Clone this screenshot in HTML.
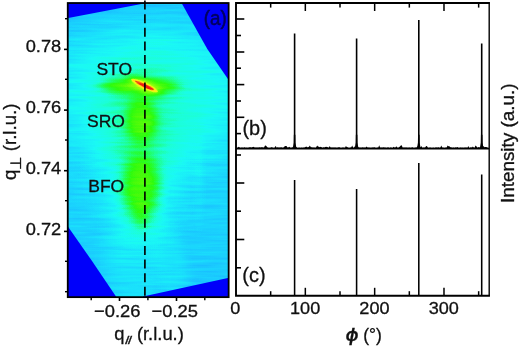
<!DOCTYPE html>
<html><head><meta charset="utf-8"><title>figure</title>
<style>html,body{margin:0;padding:0;background:#fff;}svg{display:block}</style></head>
<body><svg width="520" height="348" viewBox="0 0 520 348">
<rect width="520" height="348" fill="#fff"/>
<defs>
<linearGradient id="bg" x1="0" y1="0" x2="0" y2="1"><stop offset="0" stop-color="rgb(76,76,76)"/><stop offset="0.1" stop-color="rgb(80,80,80)"/><stop offset="0.2" stop-color="rgb(85,85,85)"/><stop offset="0.5" stop-color="rgb(85,85,85)"/><stop offset="0.75" stop-color="rgb(83,83,83)"/><stop offset="1" stop-color="rgb(79,79,79)"/></linearGradient>
<radialGradient id="gw"><stop offset="0" stop-color="#fff" stop-opacity="1"/><stop offset="0.15" stop-color="#fff" stop-opacity="0.93"/><stop offset="0.3" stop-color="#fff" stop-opacity="0.75"/><stop offset="0.45" stop-color="#fff" stop-opacity="0.53"/><stop offset="0.6" stop-color="#fff" stop-opacity="0.32"/><stop offset="0.75" stop-color="#fff" stop-opacity="0.16"/><stop offset="0.9" stop-color="#fff" stop-opacity="0.05"/><stop offset="1" stop-color="#fff" stop-opacity="0"/></radialGradient>
<radialGradient id="gf"><stop offset="0" stop-color="#fff" stop-opacity="1"/><stop offset="0.25" stop-color="#fff" stop-opacity="0.97"/><stop offset="0.4" stop-color="#fff" stop-opacity="0.86"/><stop offset="0.55" stop-color="#fff" stop-opacity="0.62"/><stop offset="0.7" stop-color="#fff" stop-opacity="0.33"/><stop offset="0.85" stop-color="#fff" stop-opacity="0.11"/><stop offset="1" stop-color="#fff" stop-opacity="0"/></radialGradient>
<clipPath id="hc"><rect x="67.5" y="2.8" width="161.4" height="294.59999999999997"/></clipPath>
<filter id="bl" x="-20%" y="-50%" width="140%" height="200%"><feGaussianBlur stdDeviation="0.7"/></filter>
<filter id="jet" filterUnits="userSpaceOnUse" x="60" y="0" width="180" height="300" color-interpolation-filters="sRGB">
<feTurbulence type="fractalNoise" baseFrequency="0.022 0.33" numOctaves="2" seed="7" result="t"/>
<feColorMatrix in="t" type="matrix" values="1 0 0 0 0  1 0 0 0 0  1 0 0 0 0  0 0 0 0 1" result="n"/>
<feComposite in="SourceGraphic" in2="n" operator="arithmetic" k1="0" k2="1" k3="0.09" k4="-0.045" result="s"/>
<feComponentTransfer in="s"><feFuncR type="table" tableValues="0.000 0.020 0.039 0.059 0.078 0.094 0.102 0.102 0.102 0.110 0.118 0.137 0.176 0.314 0.471 0.588 0.745 0.902 1.000 0.980 0.941"/><feFuncG type="table" tableValues="0.000 0.157 0.314 0.451 0.569 0.675 0.776 0.882 0.980 1.000 1.000 1.000 0.988 0.988 1.000 1.000 1.000 0.980 0.922 0.549 0.118"/><feFuncB type="table" tableValues="0.980 0.988 0.996 1.000 1.000 1.000 1.000 0.988 0.961 0.843 0.588 0.294 0.059 0.039 0.039 0.059 0.078 0.078 0.078 0.078 0.078"/></feComponentTransfer>
</filter>
</defs>
<g clip-path="url(#hc)">
<g filter="url(#jet)">
<rect x="60" y="0" width="180" height="300" fill="url(#bg)"/>
<ellipse cx="150" cy="95" rx="135" ry="105" fill="url(#gf)" opacity="0.15"/>
<ellipse cx="133" cy="258" rx="42" ry="92" fill="url(#gf)" opacity="0.065"/>
<ellipse cx="169" cy="258" rx="24" ry="78" fill="url(#gf)" opacity="0.055" transform="rotate(-14 169 258)"/>
<ellipse cx="199" cy="170" rx="9" ry="80" fill="url(#gw)" opacity="0.03"/>
<ellipse cx="141" cy="150" rx="64" ry="115" fill="url(#gw)" opacity="0.15"/>
<ellipse cx="140" cy="192" rx="72" ry="62" fill="url(#gw)" opacity="0.07"/>
<ellipse cx="141" cy="150" rx="30" ry="95" fill="url(#gw)" opacity="0.05"/>
<ellipse cx="143" cy="85.5" rx="64" ry="11" fill="url(#gw)" opacity="0.22"/>
<ellipse cx="143" cy="88" rx="44" ry="24" fill="url(#gw)" opacity="0.2"/>
<ellipse cx="117" cy="86.5" rx="26" ry="11" fill="url(#gf)" opacity="0.16"/>
<ellipse cx="166" cy="87.5" rx="20" ry="9" fill="url(#gf)" opacity="0.1"/>
<ellipse cx="141.5" cy="120" rx="23" ry="31" fill="url(#gf)" opacity="0.27"/>
<ellipse cx="141" cy="187" rx="29" ry="46" fill="url(#gf)" opacity="0.31"/>
<ellipse cx="141" cy="216" rx="13" ry="30" fill="url(#gw)" opacity="0.1"/>
<ellipse cx="140" cy="222" rx="32" ry="34" fill="url(#gw)" opacity="0.07"/>
<ellipse cx="144.5" cy="86" rx="26" ry="10" fill="url(#gw)" opacity="0.45" transform="rotate(25 144.5 86)"/>
<g transform="rotate(25 144.5 85.6)" filter="url(#bl)"><ellipse cx="144.5" cy="85.6" rx="14.5" ry="3.1" fill="rgb(228,228,228)"/><ellipse cx="144.5" cy="85.6" rx="10.5" ry="1.7" fill="#fff"/></g>
</g>
<polygon points="67,2 144,2 144,3.4 67,18.2" fill="rgb(0,0,250)"/>
<polygon points="181,2 230,2 230,82 228.6,80 207,48.5" fill="rgb(0,0,250)"/>
<polygon points="67,225.2 92,261 117,298 67,298" fill="rgb(0,0,250)"/>
<polygon points="143,298 143,296.6 230,277.6 230,298" fill="rgb(0,0,250)"/>
</g>
<rect x="67.75" y="3.05" width="160.9" height="294.09999999999997" fill="none" stroke="#000" stroke-width="1.8"/>
<line x1="144.9" y1="0.6" x2="144.9" y2="296.5" stroke="#000" stroke-width="1.65" stroke-dasharray="9 4.63"/>
<line x1="64" y1="49.4" x2="67.5" y2="49.4" stroke="#000" stroke-width="1.6"/>
<line x1="64" y1="110.10000000000001" x2="67.5" y2="110.10000000000001" stroke="#000" stroke-width="1.6"/>
<line x1="64" y1="170.70000000000002" x2="67.5" y2="170.70000000000002" stroke="#000" stroke-width="1.6"/>
<line x1="64" y1="231.4" x2="67.5" y2="231.4" stroke="#000" stroke-width="1.6"/>
<line x1="65" y1="18.7" x2="67.5" y2="18.7" stroke="#000" stroke-width="1.4"/>
<line x1="65" y1="79.3" x2="67.5" y2="79.3" stroke="#000" stroke-width="1.4"/>
<line x1="65" y1="140" x2="67.5" y2="140" stroke="#000" stroke-width="1.4"/>
<line x1="65" y1="200.7" x2="67.5" y2="200.7" stroke="#000" stroke-width="1.4"/>
<line x1="65" y1="261.3" x2="67.5" y2="261.3" stroke="#000" stroke-width="1.4"/>
<line x1="65" y1="291.7" x2="67.5" y2="291.7" stroke="#000" stroke-width="1.4"/>
<line x1="119.5" y1="297" x2="119.5" y2="301" stroke="#000" stroke-width="1.6"/>
<line x1="176.5" y1="297" x2="176.5" y2="301" stroke="#000" stroke-width="1.6"/>
<line x1="91.2" y1="297" x2="91.2" y2="300.3" stroke="#000" stroke-width="1.4"/>
<line x1="147.9" y1="297" x2="147.9" y2="300.3" stroke="#000" stroke-width="1.4"/>
<line x1="204.8" y1="297" x2="204.8" y2="300.3" stroke="#000" stroke-width="1.4"/>
<text transform="translate(61.2,52.3) scale(1.075,1)" font-size="17" text-anchor="end" font-family='"Liberation Sans", Arial, Helvetica, sans-serif' fill="#111" stroke="#111" stroke-width="0.3" >0.78</text>
<text transform="translate(61.2,113.3) scale(1.075,1)" font-size="17" text-anchor="end" font-family='"Liberation Sans", Arial, Helvetica, sans-serif' fill="#111" stroke="#111" stroke-width="0.3" >0.76</text>
<text transform="translate(61.2,174.3) scale(1.075,1)" font-size="17" text-anchor="end" font-family='"Liberation Sans", Arial, Helvetica, sans-serif' fill="#111" stroke="#111" stroke-width="0.3" >0.74</text>
<text transform="translate(61.2,235.3) scale(1.075,1)" font-size="17" text-anchor="end" font-family='"Liberation Sans", Arial, Helvetica, sans-serif' fill="#111" stroke="#111" stroke-width="0.3" >0.72</text>
<text transform="translate(117.3,316.8) scale(1.08,1)" font-size="17" text-anchor="middle" font-family='"Liberation Sans", Arial, Helvetica, sans-serif' fill="#111" stroke="#111" stroke-width="0.3" >−0.26</text>
<text transform="translate(174.8,316.8) scale(1.08,1)" font-size="17" text-anchor="middle" font-family='"Liberation Sans", Arial, Helvetica, sans-serif' fill="#111" stroke="#111" stroke-width="0.3" >−0.25</text>
<text transform="translate(114.2,75.2) scale(1.06,1)" font-size="16.5" text-anchor="middle" font-family='"Liberation Sans", Arial, Helvetica, sans-serif' fill="#111" stroke="#111" stroke-width="0.3" >STO</text>
<text transform="translate(106,127.3) scale(1.06,1)" font-size="16.5" text-anchor="middle" font-family='"Liberation Sans", Arial, Helvetica, sans-serif' fill="#111" stroke="#111" stroke-width="0.3" >SRO</text>
<text transform="translate(106.2,191.8) scale(1.06,1)" font-size="16.5" text-anchor="middle" font-family='"Liberation Sans", Arial, Helvetica, sans-serif' fill="#111" stroke="#111" stroke-width="0.3" >BFO</text>
<text transform="translate(215.2,25) scale(0.96,1)" font-size="19.5" text-anchor="middle" font-family='"Liberation Sans", Arial, Helvetica, sans-serif' fill="rgb(0,0,95)" stroke="rgb(0,0,95)" stroke-width="0.55">(a)</text>
<text transform="translate(16.4,141.8) rotate(-90) scale(1.035,1)" font-size="18" text-anchor="middle" font-family='"Liberation Sans", Arial, Helvetica, sans-serif' fill="#111" stroke="#111" stroke-width="0.3">q<tspan font-size="15" dy="4.5">⊥</tspan><tspan dy="-4.5"> (r.l.u.)</tspan></text>
<text transform="translate(149,339.6) scale(1.02,1)" font-size="18" text-anchor="middle" font-family='"Liberation Sans", Arial, Helvetica, sans-serif' fill="#111" stroke="#111" stroke-width="0.3">q<tspan font-size="10.5" dy="4.6" dx="1" font-style="italic" font-weight="bold" letter-spacing="-0.1">//</tspan><tspan dy="-4.6" dx="0.6"> (r.l.u.)</tspan></text>
<rect x="236.0" y="3.0" width="253.0" height="292.8" fill="#fff"/>
<path d="M489.0,3.0 H236.0 V295.8 H489.0" fill="none" stroke="#000" stroke-width="1.9" stroke-linecap="square"/>
<line x1="489.2" y1="3.0" x2="489.2" y2="295.8" stroke="#000" stroke-width="1.4"/>
<line x1="236.0" y1="148.7" x2="489.0" y2="148.7" stroke="#000" stroke-width="1.8"/>
<line x1="236.0" y1="19" x2="244.3" y2="19" stroke="#000" stroke-width="1.6"/>
<line x1="236.0" y1="35.5" x2="241.0" y2="35.5" stroke="#000" stroke-width="1.6"/>
<line x1="236.0" y1="52" x2="244.3" y2="52" stroke="#000" stroke-width="1.6"/>
<line x1="236.0" y1="68.2" x2="241.0" y2="68.2" stroke="#000" stroke-width="1.6"/>
<line x1="236.0" y1="84.6" x2="244.3" y2="84.6" stroke="#000" stroke-width="1.6"/>
<line x1="236.0" y1="101" x2="241.0" y2="101" stroke="#000" stroke-width="1.6"/>
<line x1="236.0" y1="117.3" x2="244.3" y2="117.3" stroke="#000" stroke-width="1.6"/>
<line x1="236.0" y1="133.6" x2="241.0" y2="133.6" stroke="#000" stroke-width="1.6"/>
<line x1="236.0" y1="155" x2="241.0" y2="155" stroke="#000" stroke-width="1.6"/>
<line x1="236.0" y1="183" x2="244.3" y2="183" stroke="#000" stroke-width="1.6"/>
<line x1="236.0" y1="211.2" x2="241.0" y2="211.2" stroke="#000" stroke-width="1.6"/>
<line x1="236.0" y1="239.5" x2="244.3" y2="239.5" stroke="#000" stroke-width="1.6"/>
<line x1="236.0" y1="267.8" x2="241.0" y2="267.8" stroke="#000" stroke-width="1.6"/>
<line x1="270.67" y1="3.0" x2="270.67" y2="7.6" stroke="#000" stroke-width="1.5"/>
<line x1="270.67" y1="295.8" x2="270.67" y2="291.2" stroke="#000" stroke-width="1.5"/>
<line x1="305.33" y1="3.0" x2="305.33" y2="11.0" stroke="#000" stroke-width="1.5"/>
<line x1="305.33" y1="295.8" x2="305.33" y2="287.8" stroke="#000" stroke-width="1.5"/>
<line x1="340.00" y1="3.0" x2="340.00" y2="7.6" stroke="#000" stroke-width="1.5"/>
<line x1="340.00" y1="295.8" x2="340.00" y2="291.2" stroke="#000" stroke-width="1.5"/>
<line x1="374.66" y1="3.0" x2="374.66" y2="11.0" stroke="#000" stroke-width="1.5"/>
<line x1="374.66" y1="295.8" x2="374.66" y2="287.8" stroke="#000" stroke-width="1.5"/>
<line x1="409.33" y1="3.0" x2="409.33" y2="7.6" stroke="#000" stroke-width="1.5"/>
<line x1="409.33" y1="295.8" x2="409.33" y2="291.2" stroke="#000" stroke-width="1.5"/>
<line x1="443.99" y1="3.0" x2="443.99" y2="11.0" stroke="#000" stroke-width="1.5"/>
<line x1="443.99" y1="295.8" x2="443.99" y2="287.8" stroke="#000" stroke-width="1.5"/>
<line x1="478.65" y1="3.0" x2="478.65" y2="7.6" stroke="#000" stroke-width="1.5"/>
<line x1="478.65" y1="295.8" x2="478.65" y2="291.2" stroke="#000" stroke-width="1.5"/>
<line x1="294.6" y1="33.5" x2="294.6" y2="148.7" stroke="#000" stroke-width="1.6"/>
<polygon points="291.8,148.7 293.1,146.5 293.70000000000005,142.7 293.85,134.7 295.35,134.7 295.5,142.7 296.1,146.5 297.40000000000003,148.7" fill="#000"/>
<line x1="356.6" y1="38.5" x2="356.6" y2="148.7" stroke="#000" stroke-width="1.6"/>
<polygon points="353.8,148.7 355.1,146.5 355.70000000000005,142.7 355.85,134.7 357.35,134.7 357.5,142.7 358.1,146.5 359.40000000000003,148.7" fill="#000"/>
<line x1="418.8" y1="20" x2="418.8" y2="148.7" stroke="#000" stroke-width="1.6"/>
<polygon points="416.0,148.7 417.3,146.5 417.90000000000003,142.7 418.05,134.7 419.55,134.7 419.7,142.7 420.3,146.5 421.6,148.7" fill="#000"/>
<line x1="481.7" y1="43.5" x2="481.7" y2="148.7" stroke="#000" stroke-width="1.6"/>
<polygon points="478.9,148.7 480.2,146.5 480.8,142.7 480.95,134.7 482.45,134.7 482.59999999999997,142.7 483.2,146.5 484.5,148.7" fill="#000"/>
<line x1="294.6" y1="180" x2="294.6" y2="295.8" stroke="#000" stroke-width="1.55"/>
<line x1="356.6" y1="189" x2="356.6" y2="295.8" stroke="#000" stroke-width="1.55"/>
<line x1="418.8" y1="163" x2="418.8" y2="295.8" stroke="#000" stroke-width="1.55"/>
<line x1="481.7" y1="174.5" x2="481.7" y2="295.8" stroke="#000" stroke-width="1.55"/>
<polygon points="236.0,148.7 237.0,147.68 237.9,147.62 238.8,146.87 239.7,147.38 240.6,147.68 241.5,147.56 242.4,147.56 243.3,147.72 244.2,147.37 245.1,147.43 246.0,147.77 246.9,147.50 247.8,147.78 248.7,147.56 249.6,147.36 250.5,147.34 251.4,147.40 252.3,147.33 253.2,146.80 254.1,147.32 255.0,147.49 255.9,147.55 256.8,147.62 257.7,147.51 258.6,147.46 259.5,147.37 260.4,147.46 261.3,147.37 262.2,147.35 263.1,147.44 264.0,147.38 264.9,145.69 265.8,145.42 266.7,146.52 267.6,147.42 268.5,147.78 269.4,147.78 270.3,147.63 271.2,147.31 272.1,147.30 273.0,147.76 273.9,147.78 274.8,147.60 275.7,145.73 276.6,147.64 277.5,147.35 278.4,147.57 279.3,147.48 280.2,147.52 281.1,147.33 282.0,147.58 282.9,147.68 283.8,147.31 284.7,146.26 285.6,145.92 286.5,145.88 287.4,147.57 288.3,147.62 289.2,146.73 290.1,147.46 291.0,147.67 291.9,147.50 292.8,147.62 293.7,147.62 294.6,147.65 295.5,145.90 296.4,147.43 297.3,147.69 298.2,147.68 299.1,147.58 300.0,147.75 300.9,147.63 301.8,147.58 302.7,147.72 303.6,147.47 304.5,147.57 305.4,146.93 306.3,146.57 307.2,147.35 308.1,147.31 309.0,146.67 309.9,145.61 310.8,147.31 311.7,147.34 312.6,147.38 313.5,147.59 314.4,147.51 315.3,147.78 316.2,147.34 317.1,145.42 318.0,146.53 318.9,146.63 319.8,147.36 320.7,146.74 321.6,147.34 322.5,147.80 323.4,147.25 324.3,147.59 325.2,146.93 326.1,146.81 327.0,147.00 327.9,147.18 328.8,147.74 329.7,146.12 330.6,147.41 331.5,147.40 332.4,147.58 333.3,147.55 334.2,147.59 335.1,147.57 336.0,147.53 336.9,147.76 337.8,147.59 338.7,147.33 339.6,147.35 340.5,147.67 341.4,147.74 342.3,147.47 343.2,147.40 344.1,147.43 345.0,147.75 345.9,145.96 346.8,147.02 347.7,147.36 348.6,147.79 349.5,147.74 350.4,147.46 351.3,147.32 352.2,145.57 353.1,147.54 354.0,147.75 354.9,146.21 355.8,147.52 356.7,147.68 357.6,147.68 358.5,147.42 359.4,147.62 360.3,147.62 361.2,147.76 362.1,147.31 363.0,147.43 363.9,147.45 364.8,147.46 365.7,147.56 366.6,146.60 367.5,147.43 368.4,147.54 369.3,147.44 370.2,147.67 371.1,147.51 372.0,147.68 372.9,147.32 373.8,147.45 374.7,147.37 375.6,147.67 376.5,147.79 377.4,147.61 378.3,147.62 379.2,145.23 380.1,147.56 381.0,147.57 381.9,147.39 382.8,147.56 383.7,147.37 384.6,147.43 385.5,147.57 386.4,147.68 387.3,147.46 388.2,147.37 389.1,147.71 390.0,147.71 390.9,147.37 391.8,147.67 392.7,147.64 393.6,146.69 394.5,147.38 395.4,147.62 396.3,146.33 397.2,147.58 398.1,147.69 399.0,147.32 399.9,146.49 400.8,145.45 401.7,145.24 402.6,147.61 403.5,147.42 404.4,147.46 405.3,147.40 406.2,147.42 407.1,147.46 408.0,147.74 408.9,147.62 409.8,147.46 410.7,147.71 411.6,147.48 412.5,147.36 413.4,147.74 414.3,147.73 415.2,147.44 416.1,147.52 417.0,147.57 417.9,145.97 418.8,147.42 419.7,147.43 420.6,147.67 421.5,145.96 422.4,147.68 423.3,147.62 424.2,147.60 425.1,147.41 426.0,146.34 426.9,145.90 427.8,147.44 428.7,147.71 429.6,147.43 430.5,147.43 431.4,147.73 432.3,147.70 433.2,147.52 434.1,147.67 435.0,147.78 435.9,147.35 436.8,147.61 437.7,147.51 438.6,147.31 439.5,147.65 440.4,147.56 441.3,145.60 442.2,147.47 443.1,147.54 444.0,147.70 444.9,147.78 445.8,147.48 446.7,147.52 447.6,145.49 448.5,146.31 449.4,146.22 450.3,147.34 451.2,147.36 452.1,147.73 453.0,147.50 453.9,147.44 454.8,147.63 455.7,147.33 456.6,147.58 457.5,146.89 458.4,147.76 459.3,147.72 460.2,147.45 461.1,147.59 462.0,147.65 462.9,147.42 463.8,147.71 464.7,147.44 465.6,147.61 466.5,147.50 467.4,147.80 468.3,146.07 469.2,147.70 470.1,147.71 471.0,146.94 471.9,147.72 472.8,146.45 473.7,147.60 474.6,147.77 475.5,145.46 476.4,146.33 477.3,147.72 478.2,146.94 479.1,147.44 480.0,147.41 480.9,147.33 481.8,147.68 482.7,147.39 483.6,145.94 484.5,147.32 485.4,147.05 486.3,147.03 487.2,147.47 488.1,147.70 489.0,148.7" fill="#000"/>
<text transform="translate(235.2,314.3) scale(1.065,1)" font-size="17" text-anchor="middle" font-family='"Liberation Sans", Arial, Helvetica, sans-serif' fill="#111" stroke="#111" stroke-width="0.3" >0</text>
<text transform="translate(305.13,314.3) scale(1.065,1)" font-size="17" text-anchor="middle" font-family='"Liberation Sans", Arial, Helvetica, sans-serif' fill="#111" stroke="#111" stroke-width="0.3" >100</text>
<text transform="translate(374.46,314.3) scale(1.065,1)" font-size="17" text-anchor="middle" font-family='"Liberation Sans", Arial, Helvetica, sans-serif' fill="#111" stroke="#111" stroke-width="0.3" >200</text>
<text transform="translate(443.79,314.3) scale(1.065,1)" font-size="17" text-anchor="middle" font-family='"Liberation Sans", Arial, Helvetica, sans-serif' fill="#111" stroke="#111" stroke-width="0.3" >300</text>
<text transform="translate(254.6,135.3) scale(0.95,1)" font-size="21" text-anchor="middle" font-family='"Liberation Sans", Arial, Helvetica, sans-serif' fill="#111" stroke="#111" stroke-width="0.3" >(b)</text>
<text transform="translate(254,281.7) scale(0.95,1)" font-size="21" text-anchor="middle" font-family='"Liberation Sans", Arial, Helvetica, sans-serif' fill="#111" stroke="#111" stroke-width="0.3" >(c)</text>
<text transform="translate(513.7,143.3) rotate(-90) scale(1.05,1)" font-size="18" text-anchor="middle" font-family='"Liberation Sans", Arial, Helvetica, sans-serif' fill="#111" stroke="#111" stroke-width="0.3">Intensity (a.u.)</text>
<text transform="translate(363.8,341) scale(0.95,1)" font-size="18.4" text-anchor="middle" font-family='"Liberation Sans", Arial, Helvetica, sans-serif' fill="#111" stroke="#111" stroke-width="0.3"><tspan font-weight="bold" font-style="italic" font-size="17.6">ϕ</tspan> (°)</text>
</svg></body></html>
